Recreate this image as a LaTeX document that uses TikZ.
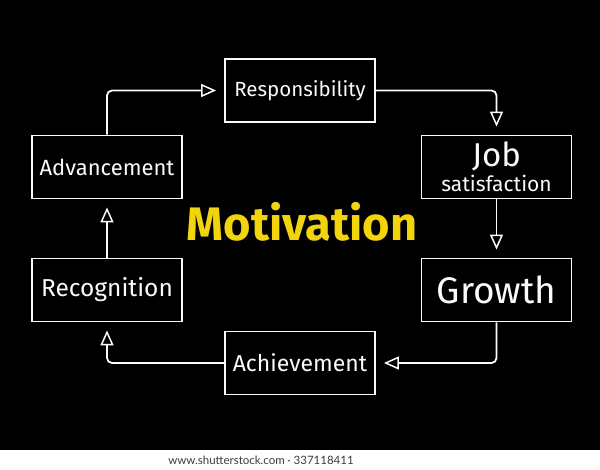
\documentclass[tikz,border=0pt]{standalone}
\usepackage{fontspec}
\setmainfont{Fira Sans}
\newfontfamily\creditfont{Lato}
\usetikzlibrary{arrows.meta,positioning}
\definecolor{chalk}{RGB}{250,250,250}
\definecolor{marker}{RGB}{242,212,12}
\definecolor{credit}{RGB}{60,60,60}

\begin{document}
\begin{tikzpicture}[x=1pt, y=-1pt, node distance=123pt, on grid,
    box/.style={draw=chalk, line width=1.8pt, minimum width=150pt, minimum height=63pt,
                inner sep=0, text=chalk, font=\fontsize{22}{26}\selectfont},
    flow/.style={draw=chalk, line width=1.8pt, rounded corners=5pt, shorten >=8pt,
                 -{Triangle[open, length=15pt, width=13pt, line width=1.5pt]}}]
                % board and credit strip
                \fill[black] (0,0) rectangle (600,450);
                \fill[white] (0,450) rectangle (600,470);
                \node[text=credit, font=\creditfont\fontsize{11.5}{13}\selectfont] (credit) at (261,460)
                    {www.shutterstock.com · 337118411};

                \node[box]                                         (adv)  at (107,167) {Advancement};
                \node[box, below = of adv, font=\fontsize{24.5}{26}\selectfont] (rec)  {Recognition};
                \node[box, above right = 76.5pt and 193pt of adv, font=\fontsize{20.5}{26}\selectfont] (resp) {Responsibility};
                \node[box, right = 389.5pt of adv, align=center]   (job)
                    {\fontsize{33}{30}\selectfont Job\\[-1pt]\fontsize{21}{22}\selectfont satisfaction};
                \node[box, below = of job, font=\fontsize{37}{40}\selectfont] (grow) {Growth};
                \node[box, below right = 73pt and 193pt of rec, font=\fontsize{23}{26}\selectfont] (ach) {Achievement};
                \node[text=marker, font=\fontsize{47}{50}\selectfont\bfseries] (mot) at (302,222) {Motivation};

                \draw[flow] (adv.north) |- (resp.west);
                \draw[flow] (resp.east) -| (job.north);
                \draw[flow] (job.south) -- (grow.north);
                \draw[flow] (grow.south) |- (ach.east);
                \draw[flow] (ach.west) -| (rec.south);
                \draw[flow] (rec.north) -- (adv.south);
            \end{tikzpicture}
\end{document}
